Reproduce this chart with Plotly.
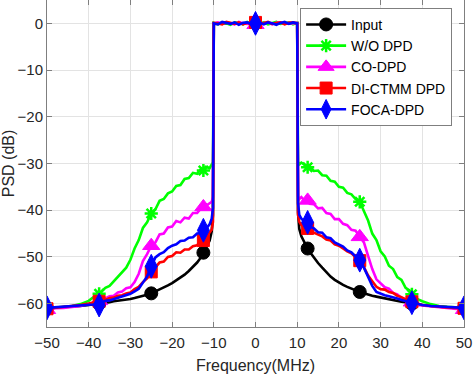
import plotly.graph_objects as go

# Frequency grid (MHz)
f_left = [-50, -48, -46, -44, -42, -40, -39, -38, -37.5, -37, -36, -35, -34, -33, -32, -31, -30,
          -29, -28, -27, -26, -25, -24, -23, -22, -21, -20, -19, -18, -17, -16, -15, -14, -13,
          -12.5, -12, -11, -10.5, -10.2]
f_band = [-10, -9, -8, -7, -6, -5, -4, -3, -2, -1, 0, 1, 2, 3, 4, 5, 6, 7, 8, 9, 10]
f_right = [10.2, 10.5, 11, 12, 12.5, 13, 14, 15, 16, 17, 18, 19, 20, 21, 22, 23, 24, 25, 26, 27,
           28, 29, 30, 31, 32, 33, 34, 35, 36, 37, 37.5, 38, 39, 40, 42, 44, 46, 48, 50]
freq = f_left + f_band + f_right

marker_freq = [-50, -37.5, -25, -12.5, 0, 12.5, 25, 37.5, 50]

# PSD values (dB)
psd_input = [
    -61.0, -60.9, -60.8, -60.7, -60.5, -60.3, -60.2, -60.1, -60.0, -59.9, -59.8, -59.7, -59.5,
    -59.4, -59.2, -59.1, -59.0, -58.8, -58.6, -58.3, -58.1, -57.8, -57.4, -57.0, -56.6, -56.1,
    -55.6, -55.0, -54.4, -53.8, -53.0, -52.2, -51.2, -50.0, -49.1, -48.3, -46.5, -44.5, -41.0,
    0.0, 0.0, 0.0, 0.0, 0.0, 0.0, 0.0, 0.0, 0.0, 0.0, 0.0, 0.0, 0.0, 0.0, 0.0, 0.0, 0.0, 0.0,
    0.0, 0.0, 0.0,
    -40.5, -44.0, -45.6, -47.5, -48.2, -48.9, -50.2, -51.3, -52.3, -53.3, -54.2, -54.9, -55.5,
    -56.0, -56.4, -56.8, -57.2, -57.5, -57.8, -58.1, -58.3, -58.5, -58.7, -58.9, -59.1, -59.3,
    -59.4, -59.6, -59.7, -59.9, -60.0, -60.1, -60.2, -60.3, -60.5, -60.6, -60.8, -60.9, -61.0]

psd_wo = [
    -61.0, -60.9, -60.7, -60.5, -60.1, -59.4, -58.7, -58.3, -57.9, -57.4, -56.6, -56.2, -55.2,
    -54.4, -53.2, -52.3, -50.6, -48.2, -46.4, -43.8, -42.6, -40.7, -39.8, -38.0, -37.6, -36.4,
    -36.0, -34.8, -34.6, -33.3, -33.1, -32.0, -32.2, -31.1, -31.5, -30.7, -31.0, -30.2, -30.5,
    0.1, -0.2, 0.2, 0.0, -0.3, 0.2, 0.1, -0.2, 0.3, 0.0, 0.1, -0.1, 0.2, -0.2, 0.1, 0.3, -0.1,
    0.0, 0.2, -0.2, 0.1,
    -29.6, -30.2, -29.8, -30.6, -30.8, -30.7, -31.6, -31.5, -32.5, -32.6, -33.7, -33.9, -35.0,
    -35.2, -36.3, -36.6, -37.6, -38.2, -40.4, -42.2, -45.0, -46.4, -48.8, -49.9, -51.9, -52.6,
    -54.3, -54.9, -56.6, -57.2, -58.0, -58.3, -59.1, -59.5, -60.1, -60.5, -60.7, -60.8, -60.9]

psd_co = [
    -61.3, -61.0, -60.9, -60.7, -60.5, -60.1, -59.9, -59.6, -59.4, -59.0, -58.9, -58.4, -58.3,
    -57.6, -57.4, -56.7, -56.5, -55.4, -53.6, -50.9, -49.4, -47.6, -46.9, -45.2, -45.0, -43.7,
    -43.5, -42.3, -42.6, -41.6, -41.8, -40.6, -40.6, -39.5, -39.3, -39.1, -38.5, -38.2, -37.2,
    0.0, 0.2, -0.1, 0.2, 0.0, -0.2, 0.3, 0.0, -0.1, 0.2, -0.3, 0.1, 0.0, 0.2, -0.2, 0.1, 0.2,
    -0.1, 0.1, 0.0, 0.1,
    -37.0, -37.6, -37.2, -38.2, -37.9, -38.6, -38.7, -39.6, -39.5, -40.6, -40.8, -41.9, -41.9,
    -42.9, -43.2, -44.2, -44.4, -45.7, -46.9, -49.8, -52.6, -54.8, -55.6, -56.5, -56.8, -57.7,
    -58.0, -58.8, -59.1, -59.5, -59.7, -59.9, -60.2, -60.4, -60.6, -60.8, -61.0, -61.1, -61.3]

psd_di = [
    -61.1, -60.9, -60.8, -60.6, -60.3, -60.0, -59.8, -59.7, -59.5, -59.3, -59.2, -58.8, -58.7,
    -58.3, -58.2, -57.8, -57.6, -56.9, -56.4, -55.4, -54.6, -53.2, -52.3, -51.2, -51.0, -50.0,
    -49.8, -49.0, -49.1, -48.4, -48.4, -47.7, -47.5, -46.6, -46.5, -45.9, -44.8, -44.2, -42.5,
    0.1, 0.0, -0.2, 0.3, 0.1, -0.1, 0.2, -0.2, 0.1, 0.0, 0.2, -0.2, 0.1, 0.3, -0.1, 0.0, 0.2,
    -0.2, 0.1, 0.2, 0.0,
    -41.0, -42.5, -43.2, -43.6, -43.9, -44.0, -44.8, -45.2, -45.6, -46.3, -46.5, -47.3, -47.6,
    -48.2, -48.8, -49.2, -50.0, -50.8, -52.2, -54.0, -55.2, -56.4, -56.9, -57.0, -57.5, -57.7,
    -58.3, -58.6, -59.1, -59.4, -59.6, -59.8, -60.1, -60.3, -60.5, -60.7, -60.8, -60.9, -61.0]

psd_foca = [
    -60.9, -60.8, -60.7, -60.6, -60.5, -60.3, -60.2, -60.1, -60.3, -59.8, -59.4, -59.3, -59.0,
    -58.7, -58.5, -58.2, -57.9, -57.4, -56.8, -55.5, -54.2, -52.0, -50.1, -49.4, -49.0, -48.1,
    -47.6, -47.3, -46.6, -46.5, -45.9, -45.8, -45.0, -44.9, -44.3, -44.1, -43.0, -41.8, -39.5,
    0.0, -0.2, 0.3, 0.1, -0.1, 0.2, -0.3, 0.1, 0.2, -0.2, 0.0, 0.1, -0.2, 0.2, 0.0, -0.3, 0.1,
    0.3, -0.1, 0.2, 0.0,
    -38.5, -41.0, -41.8, -42.6, -42.6, -43.5, -43.9, -44.7, -44.8, -45.8, -46.0, -46.9, -47.3,
    -47.8, -48.6, -49.0, -49.9, -50.7, -52.3, -54.3, -56.2, -57.5, -57.9, -58.2, -58.4, -58.6,
    -58.9, -59.2, -59.4, -59.7, -59.8, -59.9, -60.1, -60.3, -60.5, -60.6, -60.7, -60.8, -60.9]

x_ticks = [-50, -40, -30, -20, -10, 0, 10, 20, 30, 40, 50]
y_ticks = [0, -10, -20, -30, -40, -50, -60]

series = [
    ("Input", psd_input, "#000000", "circle", 13),
    ("W/O DPD", psd_wo, "#00ff00", "asterisk-open", 11),
    ("CO-DPD", psd_co, "#ff00ff", "triangle-up", 15),
    ("DI-CTMM DPD", psd_di, "#ff0000", "square", 12),
    ("FOCA-DPD", psd_foca, "#0000ff", "diamond-tall", 17),
]

FONT = "Liberation Sans, Arial"

fig = go.Figure()
idx = [freq.index(m) for m in marker_freq]
for name, vals, color, sym, size in series:
    fig.add_trace(go.Scatter(x=freq, y=vals, mode="lines", line=dict(color=color, width=2.6),
                             showlegend=False, hoverinfo="skip"))
    mline = dict(color=color, width=2.5 if sym.startswith("asterisk") else 1)
    fig.add_trace(go.Scatter(x=[freq[i] for i in idx], y=[vals[i] for i in idx], mode="markers",
                             marker=dict(symbol=sym, size=size, color=color, line=mline),
                             showlegend=False))
for name, vals, color, sym, size in series:
    mline = dict(color=color, width=2.5 if sym.startswith("asterisk") else 1)
    fig.add_trace(go.Scatter(x=[None], y=[None], mode="lines+markers", name=name,
                             line=dict(color=color, width=2.6),
                             marker=dict(symbol=sym, size=min(size, 14), color=color, line=mline)))

axis_common = dict(showgrid=True, gridcolor="#e3e3e3", gridwidth=1, zeroline=False,
                   showline=True, linecolor="#7f7f7f", linewidth=1, mirror="ticks",
                   ticks="inside", ticklen=5, tickcolor="#7f7f7f", automargin=False,
                   tickfont=dict(family=FONT, size=15, color="#262626"))

fig.update_layout(
    width=474, height=374,
    margin=dict(l=47, r=10, t=0, b=47),
    paper_bgcolor="white", plot_bgcolor="white",
    xaxis=dict(range=[-50, 50], tickvals=x_ticks, ticklabelstandoff=2,
               title=dict(text="Frequency(MHz)", standoff=10,
                          font=dict(family=FONT, size=16, color="#262626")),
               **axis_common),
    yaxis=dict(range=[-65, 5], tickvals=y_ticks,
               title=dict(text="PSD (dB)", standoff=6,
                          font=dict(family=FONT, size=16, color="#262626")),
               **axis_common),
    legend=dict(x=0.607, y=0.976, xanchor="left", yanchor="top",
                bgcolor="white", bordercolor="#7f7f7f", borderwidth=1,
                font=dict(family=FONT, size=14, color="#000000"),
                tracegroupgap=0, itemwidth=40),
    showlegend=True,
)

fig.write_html("out.html", config={"displayModeBar": False},
               post_script="document.body.style.margin='0px';")
